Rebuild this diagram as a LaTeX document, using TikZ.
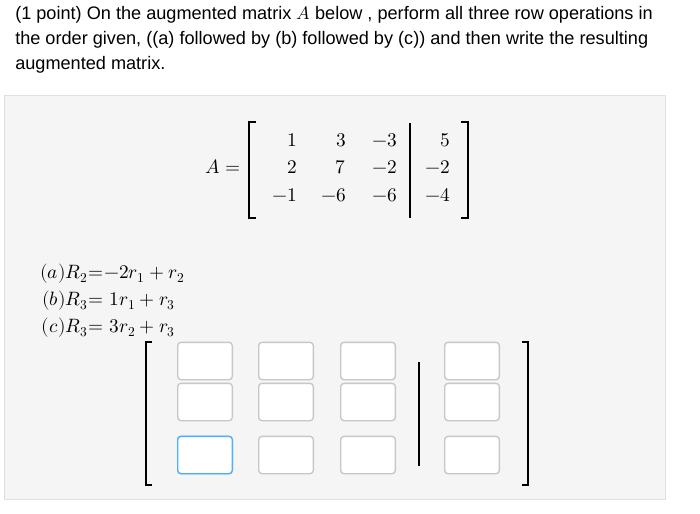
\documentclass[tikz,border=0pt]{standalone}
\usepackage{fontspec}
\setmainfont{Liberation Sans}
\usepackage{unicode-math}
\setmathfont{Latin Modern Math}
\begin{document}
\begin{tikzpicture}[x=0.75pt,y=-0.75pt,
  txt/.style={anchor=west,inner sep=0,font=\fontsize{13.6}{15}\selectfont},
  mt/.style={inner sep=0,font=\fontsize{14.5}{16}\selectfont},
  ibox/.style={draw=black!22,line width=1pt,fill=white,rounded corners=2.5pt,minimum width=41pt,minimum height=28pt,inner sep=0},
  brk/.style={line width=1pt}]
\useasboundingbox (0,0) rectangle (700,514);
\fill[white] (0,0) rectangle (700,514);
\fill[black!4] (4,95) rectangle (665,499);
\draw[black!12] (4,95) rectangle (665,499);
\node[txt] (l1) at (15,15) {(1 point) On the augmented matrix $A$ below , perform all three row operations in};
\node[txt] (l2) at (15,40) {the order given, ((a) followed by (b) followed by (c)) and then write the resulting};
\node[txt] (l3) at (15,65) {augmented matrix.};
% matrix A
\node[mt,anchor=east] (Aeq) at (241,167) {$A=$};
\node[mt,anchor=east] (a11) at (297,140) {$1$};
\node[mt,anchor=east] (a12) at (346,140) {$3$};
\node[mt,anchor=east] (a13) at (397,140) {$-3$};
\node[mt,anchor=east] (a14) at (450,140) {$5$};
\node[mt,anchor=east] (a21) at (297,167) {$2$};
\node[mt,anchor=east] (a22) at (346,167) {$7$};
\node[mt,anchor=east] (a23) at (397,167) {$-2$};
\node[mt,anchor=east] (a24) at (450,167) {$-2$};
\node[mt,anchor=east] (a31) at (297,195) {$-1$};
\node[mt,anchor=east] (a32) at (346,195) {$-6$};
\node[mt,anchor=east] (a33) at (397,195) {$-6$};
\node[mt,anchor=east] (a34) at (450,195) {$-4$};
\draw[brk] (256,122) -- (249,122) -- (249,218) -- (256,218);
\draw[brk] (461,122) -- (468,122) -- (468,218) -- (461,218);
\draw[brk] (410,123) -- (410,218);
% operations
\node[mt,anchor=base east] (op1l) at (88,278) {$(a)R_2$};
\node[mt,anchor=base] (op1e) at (96,278) {$=$};
\node[mt,anchor=base west] (op1r) at (104,278) {$-2r_1+r_2$};
\node[mt,anchor=base east] (op2l) at (88,305) {$(b)R_3$};
\node[mt,anchor=base] (op2e) at (96,305) {$=$};
\node[mt,anchor=base west] (op2r) at (104,305) {$\;1r_1+r_3$};
\node[mt,anchor=base east] (op3l) at (88,332) {$(c)R_3$};
\node[mt,anchor=base] (op3e) at (96,332) {$=$};
\node[mt,anchor=base west] (op3r) at (104,332) {$\;3r_2+r_3$};
% answer matrix
\draw[brk] (152,342) -- (146,342) -- (146,485) -- (152,485);
\draw[brk] (522,342) -- (528,342) -- (528,485) -- (522,485);
\draw[brk] (419,362) -- (419,466);
\foreach \c/\x in {1/205,2/286,3/368,4/472}{
  \node[ibox] (b1\c) at (\x,361) {};
  \node[ibox] (b2\c) at (\x,402) {};
  \node[ibox] (b3\c) at (\x,455) {};
}
\node[ibox,draw=blue!45!cyan!70] (b31x) at (205,455) {};
\end{tikzpicture}
\end{document}
